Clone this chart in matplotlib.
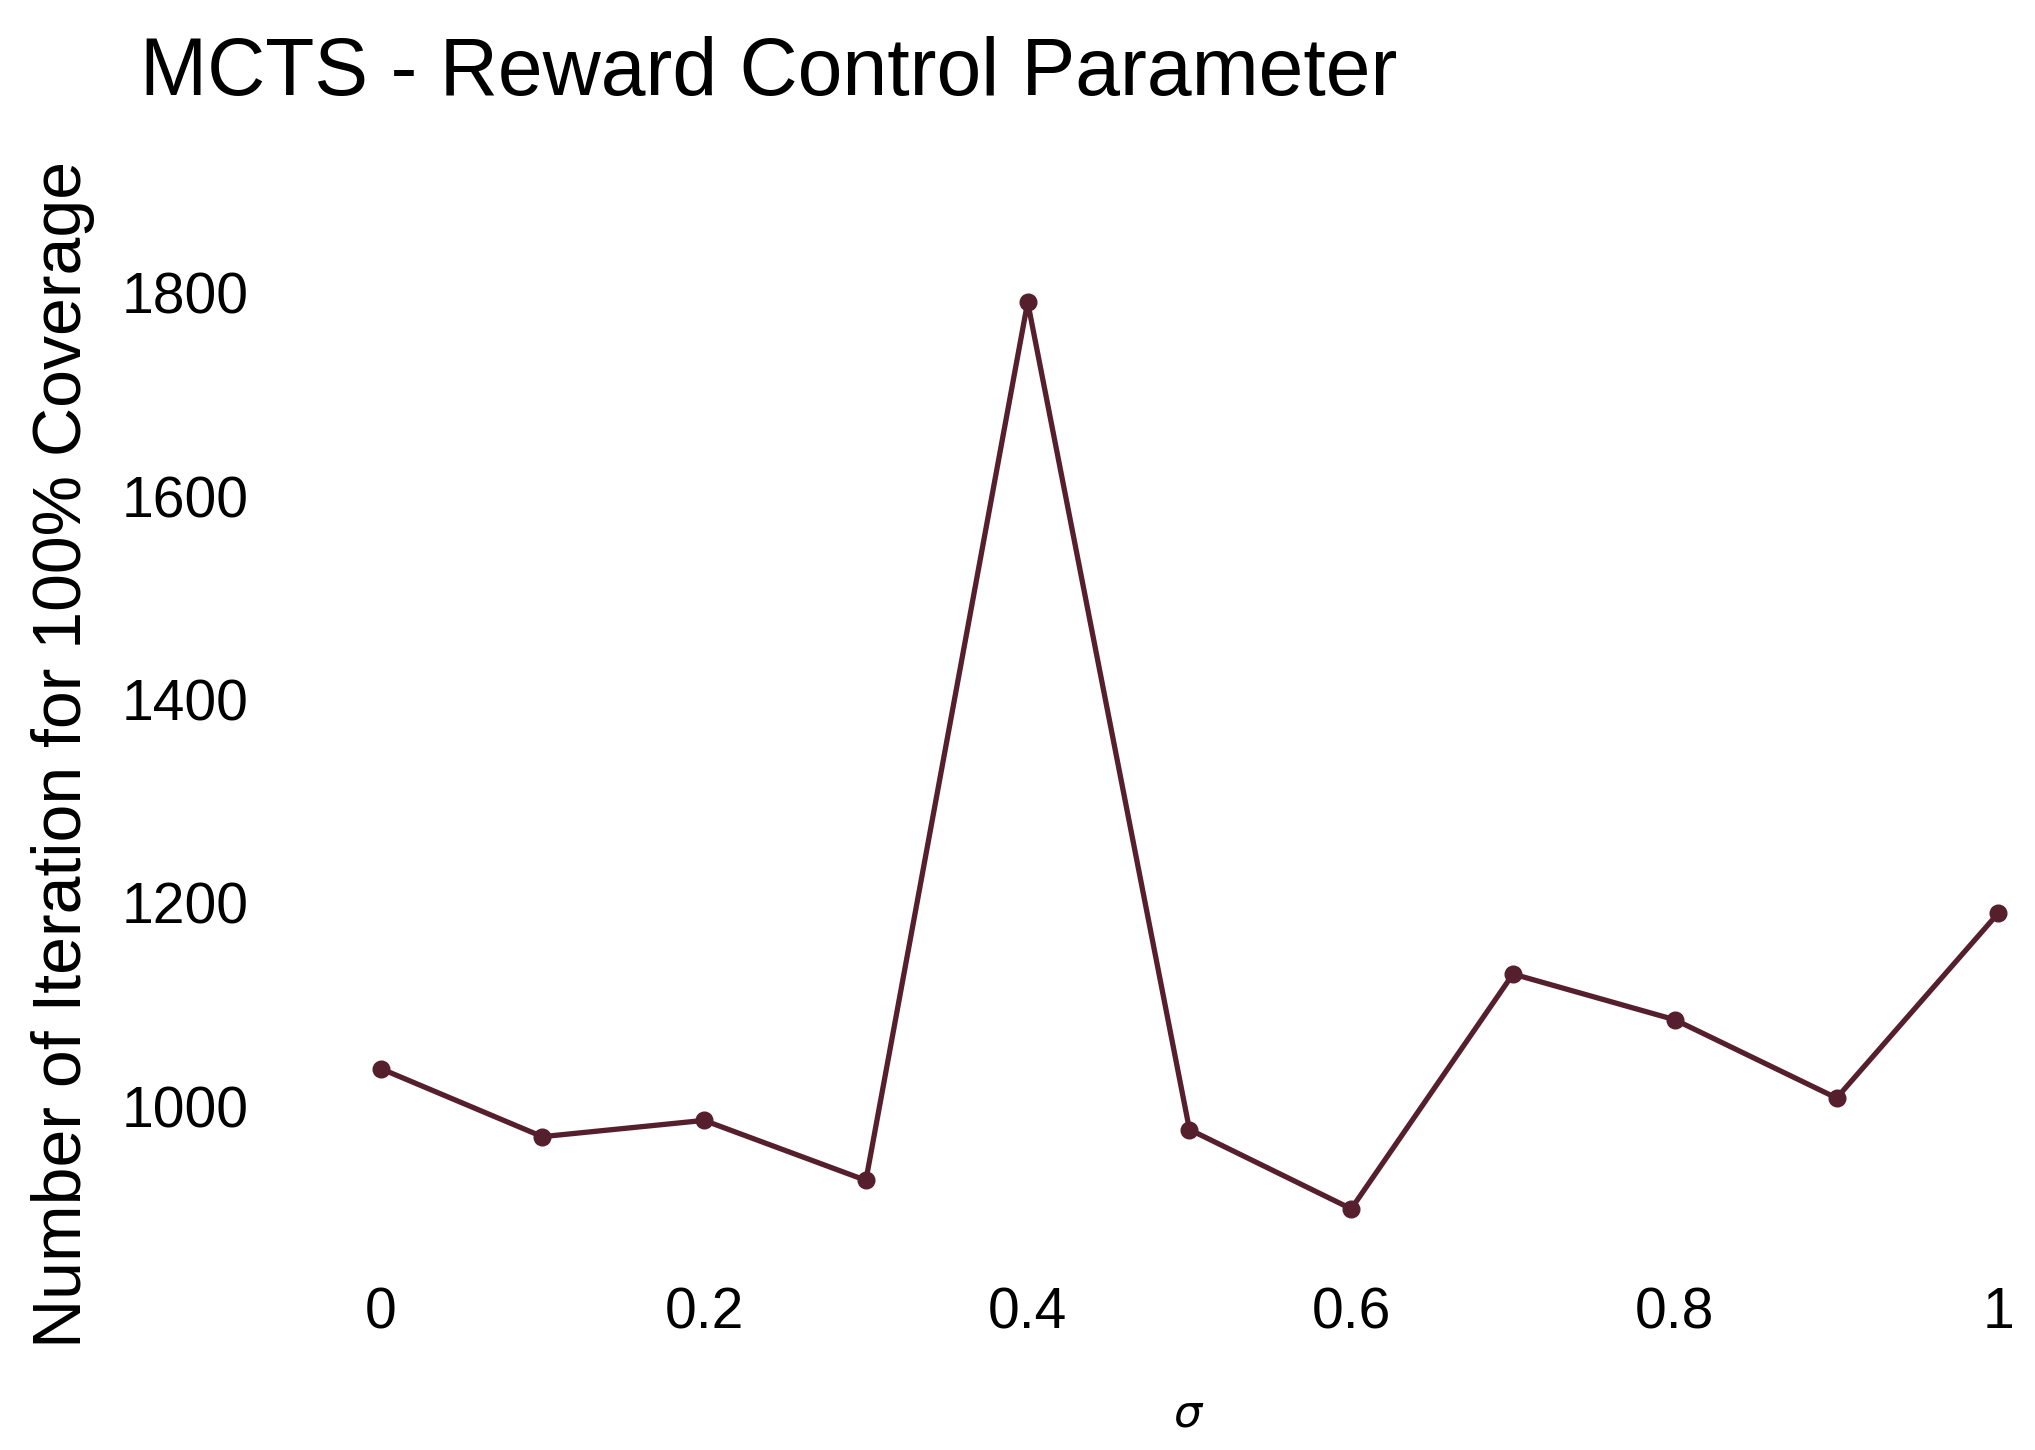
import matplotlib

matplotlib.use("Agg")
import matplotlib.pyplot as plt

# Data
sigma = [0.0, 0.1, 0.2, 0.3, 0.4, 0.5, 0.6, 0.7, 0.8, 0.9, 1.0]
iterations = [1037, 970, 986, 927, 1791, 977, 899, 1130, 1085, 1008, 1190]
x_ticks = [0, 0.2, 0.4, 0.6, 0.8, 1]
x_tick_labels = ["0", "0.2", "0.4", "0.6", "0.8", "1"]
y_ticks = [1000, 1200, 1400, 1600, 1800]

plt.rcParams["font.family"] = ["Liberation Sans", "DejaVu Sans"]
color = "#561f2e"

fig = plt.figure(figsize=(20.35, 14.5), dpi=100)
ax = fig.add_axes([0.187, 0.153, 0.795, 0.645])
ax.plot(sigma, iterations, color=color, linewidth=3.8, marker="o", markersize=12, clip_on=False)
ax.set_xlim(0, 1)
ax.set_ylim(880, 1800)
ax.set_xticks(x_ticks)
ax.set_xticklabels(x_tick_labels)
ax.set_yticks(y_ticks)
ax.tick_params(axis="y", length=0, labelsize=41, pad=95)
ax.tick_params(axis="x", length=0, labelsize=41, pad=42)
for s in ax.spines.values():
    s.set_visible(False)

fig.text(0.069, 0.975, "MCTS - Reward Control Parameter", fontsize=58, ha="left", va="top")
fig.text(0.031, 0.48, "Number of Iteration for 100% Coverage", fontsize=49,
         rotation=90, ha="center", va="center")
fig.text(0.584, 0.024, r"$\sigma$", fontsize=32, ha="center", va="center")

fig.savefig("out.png", dpi=100)
